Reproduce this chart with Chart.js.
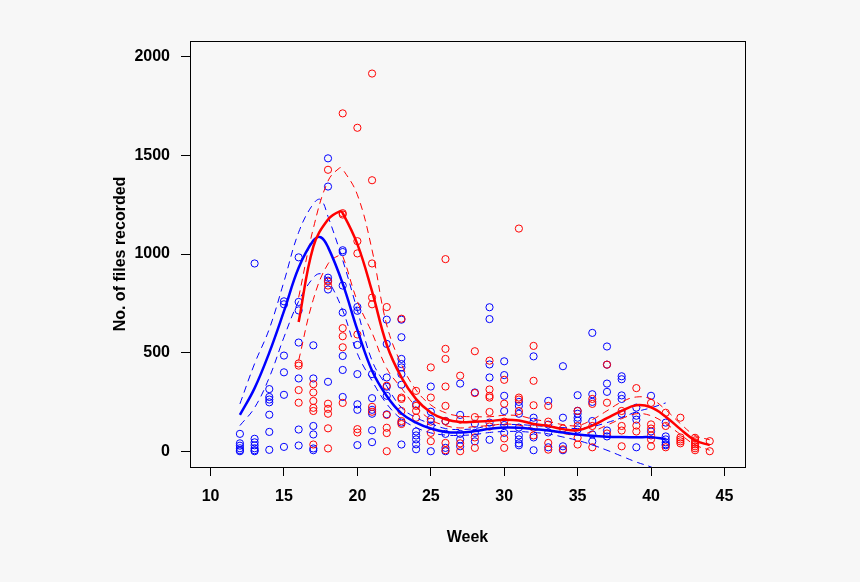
<!DOCTYPE html>
<html>
<head>
<meta charset="utf-8">
<script src="https://cdn.jsdelivr.net/npm/chart.js@4/dist/chart.umd.min.js"></script>
<style>
  html, body { margin: 0; padding: 0; background: #f7f7f7; }
  #plot { display: block; }
</style>
</head>
<body>
<canvas id="plot" width="860" height="582"></canvas>
<script>
const xTicks = [10, 15, 20, 25, 30, 35, 40, 45];
const yTicks = [0, 500, 1000, 1500, 2000];

// observed files per week: [week, counts]
const blueObs = [
  [12, [88, 40, 28, 15, 5, 0]],
  [13, [952, 63, 45, 30, 15, 5, 0]],
  [14, [315, 275, 262, 248, 185, 98, 7]],
  [15, [760, 745, 485, 400, 286, 22]],
  [16, [983, 757, 714, 551, 369, 110, 29]],
  [17, [537, 369, 128, 85, 14, 5]],
  [18, [1485, 1342, 880, 865, 820, 352]],
  [19, [1019, 1010, 840, 703, 483, 412, 275]],
  [20, [731, 712, 539, 391, 238, 210, 31]],
  [21, [391, 269, 210, 190, 106, 46]],
  [22, [667, 544, 374, 327, 281, 187]],
  [23, [667, 578, 468, 442, 425, 391, 337, 145, 34]],
  [24, [238, 100, 80, 60, 35, 10]],
  [25, [328, 200, 163, 130, 0]],
  [26, [153, 88, 17, 0]],
  [27, [343, 184, 88, 60, 25]],
  [28, [298, 139, 93, 50]],
  [29, [730, 670, 440, 374, 145, 58]],
  [30, [456, 386, 281, 204, 133, 93]],
  [31, [250, 230, 190, 120, 80, 60, 40, 30]],
  [32, [481, 170, 150, 70, 5]],
  [33, [255, 135, 95, 20]],
  [34, [431, 170, 25, 5]],
  [35, [284, 205, 190, 170, 155, 110]],
  [36, [600, 289, 250, 153, 85, 50]],
  [37, [531, 439, 343, 301, 105, 75]],
  [38, [380, 365, 283, 265, 190]],
  [39, [221, 180, 160, 20]],
  [40, [281, 100]],
  [41, [145, 75, 60, 45, 35, 30]],
];

const redObs = [
  [16, [445, 434, 310, 246]],
  [17, [340, 298, 255, 220, 204, 34]],
  [18, [1427, 860, 840, 241, 215, 190, 116, 14]],
  [19, [1713, 1207, 1200, 624, 583, 527, 245]],
  [20, [1640, 1065, 1003, 592, 112, 95]],
  [21, [1915, 1374, 952, 779, 745, 225, 200]],
  [22, [731, 332, 184, 119, 92, 0]],
  [23, [672, 272, 265, 204, 153, 138]],
  [24, [306, 230, 205, 170]],
  [25, [425, 272, 150, 93, 51]],
  [26, [974, 519, 468, 328, 230, 153, 42, 5]],
  [27, [383, 160, 40, 0]],
  [28, [507, 295, 173, 70, 17]],
  [29, [459, 313, 281, 272, 199, 125]],
  [30, [362, 241, 150, 65, 17]],
  [31, [1129, 272, 262, 204]],
  [32, [534, 357, 233, 119, 80]],
  [33, [230, 150, 42, 8]],
  [34, [115, 10]],
  [35, [204, 128, 68, 34]],
  [36, [265, 240, 128, 20]],
  [37, [439, 246, 90]],
  [38, [204, 128, 105, 25]],
  [39, [320, 130, 100]],
  [40, [245, 136, 115, 80, 60, 25]],
  [41, [195, 128, 20]],
  [42, [170, 70, 60, 50, 40]],
  [43, [68, 55, 45, 35, 25, 15, 5]],
  [44, [51, 0]],
];

// fitted curves with confidence bands
const blueFitWeeks = [12, 13, 14, 15, 16, 17, 17.5, 18, 19, 20, 21, 22, 23, 24, 25, 26, 27, 28,
  29, 30, 31, 32, 33, 34, 35, 36, 37, 38, 39, 40, 41];
const blueFit = [184, 320, 500, 710, 930, 1068, 1085, 1035, 850, 615, 408, 280, 192, 145, 115, 98, 95, 102,
  114, 120, 119, 112, 105, 95, 85, 78, 74, 72, 71, 71, 62];
const blueUpper = [240, 444, 620, 860, 1110, 1255, 1276, 1190, 969, 714, 459, 330, 221, 170, 140, 115, 110, 115,
  130, 135, 135, 130, 125, 120, 115, 125, 145, 170, 200, 220, 245];
const blueLower = [130, 221, 374, 578, 760, 880, 900, 867, 714, 495, 357, 240, 163, 120, 93, 82, 80, 85,
  95, 100, 100, 95, 88, 72, 55, 32, 5, -25, -55, -80, -115];

const redFitWeeks = [16, 17, 18, 18.8, 19, 20, 21, 22, 23, 24, 25, 26, 27, 28, 29, 30,
  31, 32, 33, 34, 35, 36, 37, 38, 39, 40, 41, 42, 43, 44];
const redFit = [655, 1037, 1175, 1216, 1207, 1050, 810, 540, 374, 264, 196, 162, 148, 150, 153, 160,
  156, 138, 128, 112, 106, 130, 168, 205, 233, 222, 175, 112, 55, 31];
const redUpper = [780, 1130, 1370, 1437, 1430, 1300, 1020, 640, 440, 310, 235, 195, 178, 175, 175, 182,
  180, 162, 150, 135, 130, 160, 205, 250, 275, 265, 210, 140, 80, 58];
const redLower = [460, 770, 950, 995, 990, 760, 600, 420, 320, 225, 160, 130, 118, 125, 130, 138,
  132, 115, 105, 90, 82, 100, 132, 165, 190, 180, 140, 85, 32, 5];

const BLUE = "#0000ff";
const RED = "#ff0000";
const FONT = "'Liberation Sans', Arial, sans-serif";

const toPoints = (obs) => obs.flatMap(([week, counts]) => counts.map((v) => ({ x: week, y: v })));
const toLine = (weeks, values) => weeks.map((w, i) => ({ x: w, y: values[i] }));

const curve = (data, color, dashed) => ({
  type: "line",
  data,
  borderColor: color,
  borderWidth: dashed ? 1 : 2.5,
  borderDash: dashed ? [7, 5] : [],
  pointRadius: 0,
  fill: false,
  tension: 0.4,
});

const dots = (data, color) => ({
  type: "scatter",
  data,
  borderColor: color,
  backgroundColor: "rgba(0,0,0,0)",
  borderWidth: 1,
  pointRadius: 3.6,
  pointStyle: "circle",
});

const boxPlugin = {
  id: "box",
  afterDraw(chart) {
    const { ctx, chartArea: a } = chart;
    ctx.save();
    ctx.strokeStyle = "#000";
    ctx.lineWidth = 1;
    ctx.strokeRect(Math.round(a.left) + 0.5, Math.round(a.top) + 0.5,
      Math.round(a.right - a.left), Math.round(a.bottom - a.top));
    ctx.restore();
  },
};

new Chart(document.getElementById("plot"), {
  data: {
    datasets: [
      curve(toLine(redFitWeeks, redFit), RED, false),
      curve(toLine(blueFitWeeks, blueFit), BLUE, false),
      curve(toLine(redFitWeeks, redUpper), RED, true),
      curve(toLine(redFitWeeks, redLower), RED, true),
      curve(toLine(blueFitWeeks, blueUpper), BLUE, true),
      curve(toLine(blueFitWeeks, blueLower), BLUE, true),
      dots(toPoints(redObs), RED),
      dots(toPoints(blueObs), BLUE),
    ],
  },
  options: {
    responsive: false,
    animation: false,
    devicePixelRatio: 1,
    layout: { padding: { top: 41, right: 115, left: 0, bottom: 0 } },
    plugins: { legend: { display: false }, tooltip: { enabled: false } },
    scales: {
      x: {
        type: "linear",
        min: 8.6,
        max: 46.4,
        afterBuildTicks: (scale) => { scale.ticks = xTicks.map((v) => ({ value: v })); },
        afterFit: (scale) => { scale.height = 115; },
        grid: { drawOnChartArea: false, drawTicks: true, tickLength: 9, tickColor: "#000", tickWidth: 1 },
        border: { display: false },
        ticks: {
          color: "#000", padding: 11, maxRotation: 0,
          callback: (v) => String(v),
          font: { family: FONT, size: 16, weight: "bold" },
        },
        title: {
          display: true,
          text: "Week",
          color: "#000",
          font: { family: FONT, size: 16, weight: "bold" },
          padding: { top: 0, bottom: 35 },
        },
      },
      y: {
        type: "linear",
        min: -80,
        max: 2080,
        afterBuildTicks: (scale) => { scale.ticks = yTicks.map((v) => ({ value: v })); },
        afterFit: (scale) => { scale.width = 190; },
        grid: { drawOnChartArea: false, drawTicks: true, tickLength: 9, tickColor: "#000", tickWidth: 1 },
        border: { display: false },
        ticks: {
          color: "#000", padding: 11,
          callback: (v) => String(v),
          font: { family: FONT, size: 16, weight: "bold" },
        },
        title: {
          display: true,
          text: "No. of files recorded",
          color: "#000",
          font: { family: FONT, size: 16, weight: "bold" },
          padding: { top: 111, bottom: 0 },
        },
      },
    },
  },
  plugins: [boxPlugin],
});
</script>
</body>
</html>
